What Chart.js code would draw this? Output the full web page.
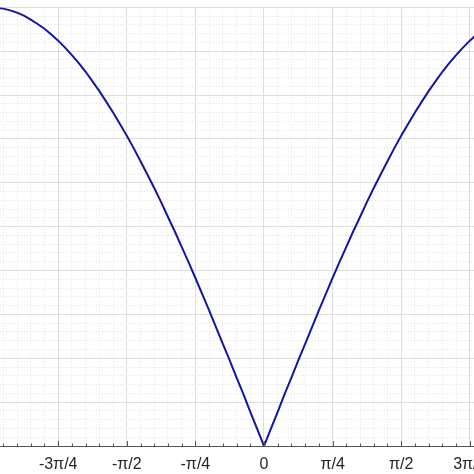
<!DOCTYPE html>
<html>
<head>
<meta charset="utf-8">
<script src="https://cdn.jsdelivr.net/npm/chart.js@4"></script>
<style>
  html, body { margin: 0; padding: 0; background: #fff; }
  #wrap { position: relative; width: 474px; height: 474px; overflow: hidden; }
  #wrap canvas { position: absolute; left: 0; top: 0; }
</style>
</head>
<body>
<div id="wrap"><canvas id="c" width="600" height="500"></canvas></div>
<script>
// x positions in multiples of pi
const xs = [-1.000, -0.975, -0.950, -0.925, -0.900, -0.875, -0.850, -0.825, -0.800, -0.775,
            -0.750, -0.725, -0.700, -0.675, -0.650, -0.625, -0.600, -0.575, -0.550, -0.525,
            -0.500, -0.475, -0.450, -0.425, -0.400, -0.375, -0.350, -0.325, -0.300, -0.275,
            -0.250, -0.225, -0.200, -0.175, -0.150, -0.125, -0.100, -0.075, -0.050, -0.025,
             0.000,
             0.025,  0.050,  0.075,  0.100,  0.125,  0.150,  0.175,  0.200,  0.225,  0.250,
             0.275,  0.300,  0.325,  0.350,  0.375,  0.400,  0.425,  0.450,  0.475,  0.500,
             0.525,  0.550,  0.575,  0.600,  0.625,  0.650,  0.675,  0.700,  0.725,  0.750,
             0.775,  0.800,  0.825,  0.850,  0.875,  0.900,  0.925,  0.950,  0.975,  1.000];
const ys = [1.000, 0.999, 0.997, 0.993, 0.988, 0.981, 0.972, 0.962, 0.951, 0.938,
            0.924, 0.908, 0.891, 0.873, 0.853, 0.831, 0.809, 0.785, 0.760, 0.734,
            0.707, 0.679, 0.649, 0.619, 0.588, 0.556, 0.522, 0.489, 0.454, 0.419,
            0.383, 0.346, 0.309, 0.271, 0.233, 0.195, 0.156, 0.118, 0.078, 0.039,
            0.000,
            0.039, 0.078, 0.118, 0.156, 0.195, 0.233, 0.271, 0.309, 0.346, 0.383,
            0.419, 0.454, 0.489, 0.522, 0.556, 0.588, 0.619, 0.649, 0.679, 0.707,
            0.734, 0.760, 0.785, 0.809, 0.831, 0.853, 0.873, 0.891, 0.908, 0.924,
            0.938, 0.951, 0.962, 0.972, 0.981, 0.988, 0.993, 0.997, 0.999, 1.000];

// axis ticks (x in multiples of pi)
const tickVals = [-0.75, -0.5, -0.25, 0, 0.25, 0.5, 0.75, 1];
const tickLabels = ['-3\u03c0/4', '-\u03c0/2', '-\u03c0/4', '0', '\u03c0/4', '\u03c0/2', '3\u03c0/4', '\u03c0'];
const yTicks = [0, 0.1, 0.2, 0.3, 0.4, 0.5, 0.6, 0.7, 0.8, 0.9, 1.0];

// visible window (cropped figure)
const xMin = -0.9621, xMax = 1.2245;

const minorX = [];
for (let k = -19; k <= 24; k++) minorX.push(k * 0.05);
const minorY = [];
for (let k = 0; k <= 50; k++) minorY.push(k * 0.02);

const tickMarks = {
  id: 'tickMarks',
  afterDatasetsDraw(chart) {
    const { ctx, chartArea } = chart;
    const sx = chart.scales.x;
    const b = chartArea.bottom;
    ctx.save();
    ctx.strokeStyle = '#555';
    ctx.lineWidth = 1;
    const mark = (v, len) => {
      const p = Math.round(sx.getPixelForValue(v)) + 0.5;
      ctx.beginPath();
      ctx.moveTo(p, b);
      ctx.lineTo(p, b - len);
      ctx.stroke();
    };
    minorX.forEach(v => mark(v, 2.5));
    tickVals.forEach(v => mark(v, 5));
    ctx.restore();
  }
};

const hidden = { display: false };

new Chart(document.getElementById('c').getContext('2d'), {
  type: 'line',
  data: {
    datasets: [{
      data: xs.map((x, i) => ({ x: x, y: ys[i] })),
      borderColor: '#1515a5',
      borderWidth: 2,
      pointRadius: 0,
      tension: 0,
      fill: false,
      xAxisID: 'x',
      yAxisID: 'y'
    }]
  },
  options: {
    responsive: false,
    animation: false,
    layout: { padding: { top: 7.3, bottom: 17.8, left: 0, right: 0 } },
    plugins: { legend: hidden, tooltip: { enabled: false } },
    scales: {
      xm: {
        type: 'linear', position: 'bottom', min: xMin, max: xMax,
        afterBuildTicks: s => { s.ticks = minorX.map(v => ({ value: v })); },
        ticks: hidden,
        grid: { color: '#e3e3e3', lineWidth: 1, drawTicks: false },
        border: { display: false, dash: [1, 2] }
      },
      ym: {
        type: 'linear', position: 'left', min: 0, max: 1,
        afterBuildTicks: s => { s.ticks = minorY.map(v => ({ value: v })); },
        ticks: hidden,
        grid: { color: '#e3e3e3', lineWidth: 1, drawTicks: false },
        border: { display: false, dash: [1, 2] }
      },
      x: {
        type: 'linear', position: 'bottom', min: xMin, max: xMax,
        afterBuildTicks: s => { s.ticks = tickVals.map(v => ({ value: v })); },
        ticks: {
          padding: 8.5,
          color: '#262626',
          font: { family: '"Liberation Sans", Arial, sans-serif', size: 16 },
          maxRotation: 0,
          autoSkip: false,
          callback: (v, i) => tickLabels[i]
        },
        grid: { color: '#dedede', lineWidth: 1, drawTicks: false },
        border: { display: true, color: '#555', width: 1 }
      },
      y: {
        type: 'linear', position: 'left', min: 0, max: 1,
        afterBuildTicks: s => { s.ticks = yTicks.map(v => ({ value: v })); },
        ticks: hidden,
        grid: { color: '#dedede', lineWidth: 1, drawTicks: false },
        border: { display: false }
      }
    }
  },
  plugins: [tickMarks]
});
</script>
</body>
</html>
